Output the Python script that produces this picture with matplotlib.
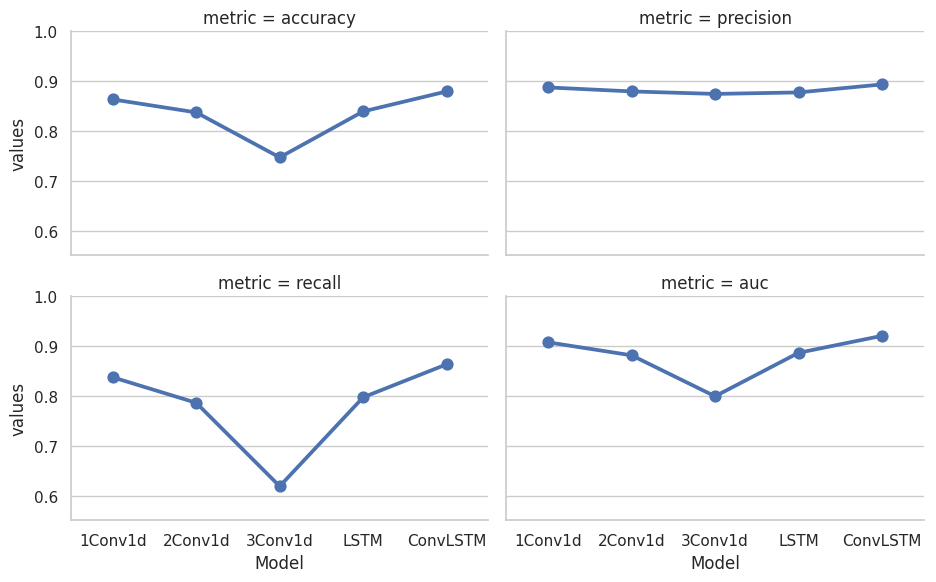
import pandas as pd
import seaborn as sns
import matplotlib
matplotlib.use("Agg")
import matplotlib.pyplot as plt

models = ["1Conv1d", "2Conv1d", "3Conv1d", "LSTM", "ConvLSTM"]
metrics = ["accuracy", "precision", "recall", "auc"]
accuracy = [0.864, 0.838, 0.748, 0.840, 0.880]
precision = [0.888, 0.880, 0.875, 0.878, 0.894]
recall = [0.838, 0.787, 0.620, 0.798, 0.864]
auc = [0.908, 0.882, 0.800, 0.887, 0.921]

rows = []
for name, vals in zip(metrics, [accuracy, precision, recall, auc]):
    for m, v in zip(models, vals):
        rows.append({"Model": m, "metric": name, "values": v})
df = pd.DataFrame(rows)

sns.set_theme(style="whitegrid")
g = sns.catplot(data=df, x="Model", y="values", col="metric", col_wrap=2,
                kind="point", height=2.65, aspect=1.6)
g.set(ylim=(0.552, 1.0))
g.figure.set_size_inches(9.34, 5.84)
# match the reference axes positions
g.figure.subplots_adjust(left=0.076, right=0.989, top=0.945, bottom=0.108,
                         wspace=0.043, hspace=0.183)
g.savefig("out.png", dpi=100)
